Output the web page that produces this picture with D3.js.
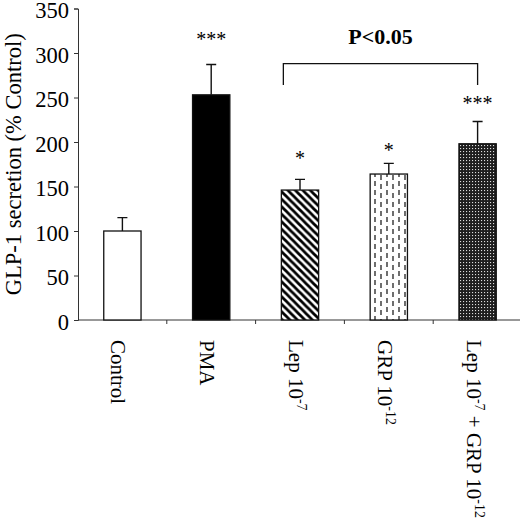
<!DOCTYPE html>
<html>
<head>
<meta charset="utf-8">
<script src="https://cdn.jsdelivr.net/npm/d3@7"></script>
<style>
  body { margin: 0; background: #fff; }
  svg { display: block; font-family: "Liberation Serif", "Times New Roman", serif; }
</style>
</head>
<body>
<svg id="chart"></svg>
<script>
// values
const categories = ["Control", "PMA", "Lep", "GRP", "LepGRP"];
const means = [100, 253, 146, 164, 198];
const errors = [15, 34, 12, 12, 25];
const stars = ["", "***", "*", "*", "***"];
const starLevels = [0, 318, 185, 194, 247];
const yTicks = [0, 50, 100, 150, 200, 250, 300, 350];
const bracketLevels = [288, 264];

const width = 520;
const height = 526;
const marginLeft = 78;
const marginRight = -2;
const marginTop = 8.5;
const plotBottom = 320;

const svg = d3.select("#chart")
    .attr("width", width)
    .attr("height", height)
    .attr("viewBox", [0, 0, width, height]);

const defs = svg.append("defs");

// diagonal stripes for Lep
const stripes = defs.append("pattern")
    .attr("id", "stripes")
    .attr("patternUnits", "userSpaceOnUse")
    .attr("width", 7.5).attr("height", 7.5);
stripes.append("rect").attr("width", 7.5).attr("height", 7.5).attr("fill", "#fff");
stripes.append("path")
    .attr("d", "M-2,-2 L9.5,9.5 M-2,5.5 L2,9.5 M5.5,-2 L9.5,2")
    .attr("stroke", "#000").attr("stroke-width", 2.8);

// short vertical dashes for GRP
const dashes = defs.append("pattern")
    .attr("id", "dashes")
    .attr("patternUnits", "userSpaceOnUse")
    .attr("width", 12).attr("height", 9);
dashes.append("rect").attr("width", 12).attr("height", 9).attr("fill", "#fff");
dashes.append("path")
    .attr("d", "M3,1 L3,6 M9,4 L9,9 M9,-2 L9,0")
    .attr("stroke", "#222").attr("stroke-width", 1.3);

// dense dots for the combination
const dots = defs.append("pattern")
    .attr("id", "dots")
    .attr("patternUnits", "userSpaceOnUse")
    .attr("width", 3).attr("height", 3);
dots.append("rect").attr("width", 3).attr("height", 3).attr("fill", "#1e1e1e");
dots.append("rect").attr("x", 1).attr("y", 1).attr("width", 1.1).attr("height", 1.1).attr("fill", "#ddd");

const fills = ["#fff", "#000", "url(#stripes)", "url(#dashes)", "url(#dots)"];

const xScale = d3.scaleBand()
    .domain(categories)
    .range([marginLeft, width - marginRight])
    .paddingInner(0.58)
    .paddingOuter(0.29);

const yScale = d3.scaleLinear([0, 350], [plotBottom, marginTop]);

const data = categories.map((c, i) => ({
    cat: c, mean: means[i], err: errors[i], star: stars[i], starLevel: starLevels[i], fill: fills[i]
}));

// y axis
const yAxis = d3.axisLeft(yScale)
    .tickValues(yTicks)
    .tickSize(4)
    .tickPadding(5);

const gy = svg.append("g")
    .attr("transform", `translate(${marginLeft},0)`)
    .call(yAxis);
gy.select(".domain").attr("stroke", "#333");
gy.selectAll(".tick line").attr("stroke", "#333");
gy.selectAll(".tick text")
    .attr("font-size", 22.5)
    .attr("font-family", "Liberation Serif")
    .attr("fill", "#000")
    .attr("dy", "0.4em");

svg.append("text")
    .attr("transform", `translate(20.5,${(marginTop + plotBottom) / 2}) rotate(-90)`)
    .attr("text-anchor", "middle")
    .attr("font-size", 22.5)
    .text("GLP-1 secretion (% Control)");

// x axis line and boundary ticks
const step = xScale.step();
const outer = step * 0.29;
svg.append("line")
    .attr("x1", marginLeft).attr("x2", width - marginRight)
    .attr("y1", plotBottom).attr("y2", plotBottom)
    .attr("stroke", "#333");

svg.selectAll(".xtick")
    .data(categories.slice(1))
    .join("line")
    .attr("class", "xtick")
    .attr("x1", d => xScale(d) - outer)
    .attr("x2", d => xScale(d) - outer)
    .attr("y1", plotBottom).attr("y2", plotBottom + 4)
    .attr("stroke", "#333");

// bars
svg.selectAll(".bar")
    .data(data)
    .join("rect")
    .attr("class", "bar")
    .attr("x", d => xScale(d.cat))
    .attr("width", xScale.bandwidth())
    .attr("y", d => yScale(d.mean))
    .attr("height", d => plotBottom - yScale(d.mean))
    .attr("fill", d => d.fill)
    .attr("stroke", "#111")
    .attr("stroke-width", 1.3);

// error bars (upper only)
const cx = d => xScale(d.cat) + xScale.bandwidth() / 2;
svg.selectAll(".err")
    .data(data)
    .join("path")
    .attr("class", "err")
    .attr("d", d => `M${cx(d)},${yScale(d.mean)} V${yScale(d.mean + d.err)} M${cx(d) - 5},${yScale(d.mean + d.err)} H${cx(d) + 5}`)
    .attr("fill", "none")
    .attr("stroke", "#111")
    .attr("stroke-width", 1.4);

// significance stars
svg.selectAll(".star")
    .data(data.filter(d => d.star))
    .join("text")
    .attr("class", "star")
    .attr("x", cx)
    .attr("y", d => yScale(d.starLevel))
    .attr("dy", "0.47em")
    .attr("text-anchor", "middle")
    .attr("font-size", 20)
    .text(d => d.star);

// bracket between Lep and combination
const bx1 = xScale("Lep") + 2;
const bx2 = cx(data[4]);
svg.append("path")
    .attr("d", `M${bx1},${yScale(bracketLevels[1])} V${yScale(bracketLevels[0])} H${bx2} V${yScale(bracketLevels[1])}`)
    .attr("fill", "none")
    .attr("stroke", "#111")
    .attr("stroke-width", 1.3);

svg.append("text")
    .attr("x", (bx1 + bx2) / 2)
    .attr("y", 43.5)
    .attr("text-anchor", "middle")
    .attr("font-size", 22)
    .attr("font-weight", "bold")
    .text("P<0.05");

// category labels, rotated
const labels = [
    [["Control"]],
    [["PMA"]],
    [["Lep 10"], ["-7", true]],
    [["GRP 10"], ["-12", true]],
    [["Lep 10"], ["-7", true], [" + GRP 10"], ["-12", true]]
];

const lab = svg.selectAll(".xlabel")
    .data(categories)
    .join("text")
    .attr("class", "xlabel")
    .attr("transform", d => `translate(${xScale(d) + xScale.bandwidth() / 2 - 3},340) rotate(90)`)
    .attr("dy", "0.35em")
    .attr("font-size", 21);

lab.each(function(d, i) {
    const t = d3.select(this);
    labels[i].forEach(([s, sup]) => {
        t.append("tspan")
            .attr("font-size", sup ? 14 : 21)
            .attr("dy", sup ? -8 : (t.selectAll("tspan").size() > 0 ? 8 : null))
            .text(s);
    });
});
</script>
</body>
</html>
